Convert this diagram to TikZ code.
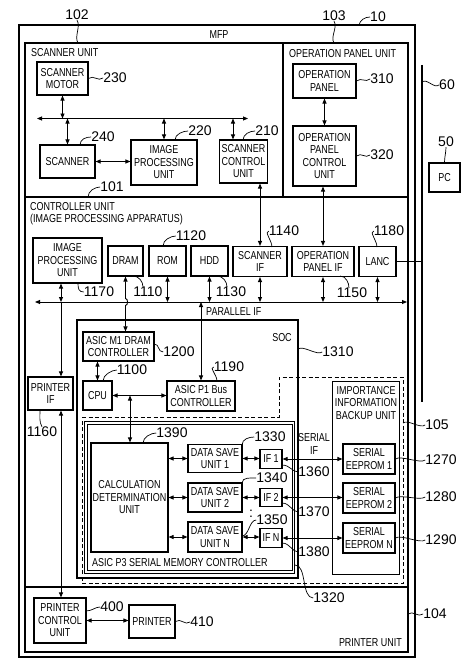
\documentclass[tikz,border=0pt]{standalone}
\usepackage{fontspec}
\setmainfont{Liberation Sans}[FakeStretch=0.78]
\newfontfamily\numfont{Liberation Sans}
\usetikzlibrary{arrows.meta,calc}
\newcommand\bxf{\fontsize{11.5}{12.5}\selectfont}
\newcommand\nmf{\numfont\fontsize{14}{14}\selectfont}
\newcommand\leadT[2]{\draw[lead] (#1) .. controls +(0,-6) and +(-5,0) .. (#2);}
\newcommand\leadB[2]{\draw[lead] (#1) .. controls +(0,6) and +(-5,0) .. (#2);}
\newcommand\leadR[2]{\draw[lead] (#1) .. controls +(6,0) and +(0,-5) .. (#2);}
\newcommand\leadH[2]{\draw[lead] (#1) .. controls +(5,-4) and +(-5,4) .. (#2);}
\newcommand\leadV[2]{\draw[lead] (#1) .. controls +(-4,-6) and +(4,6) .. (#2);}
\begin{document}
\begin{tikzpicture}[x=1pt,y=-1pt,
  >={Triangle[length=5pt,width=4pt]},
  box/.style={draw, line width=1.1pt, align=center, inner sep=0pt, font=\bxf},
  frame/.style={draw, line width=1.1pt},
  num/.style={font=\nmf, inner sep=0pt},
  txt/.style={font=\bxf, inner sep=0pt, align=left},
  lead/.style={line width=0.7pt},
  dbl/.style={<->, line width=0.9pt},
  sgl/.style={->, line width=0.9pt}]
\fill[white] (0,0) rectangle (474,669);
\useasboundingbox (0,0) rectangle (474,669);

% ---------- frames
\draw[frame] (19,25) rectangle (415,657);
\draw[frame] (25,43) rectangle (408,652);
\draw[frame] (25,197) -- (408,197);
\draw[frame] (283,43) -- (283,197);
\draw[frame] (25,587) -- (408,587);

\node[txt] (tmfp) at (219,35) {MFP};
\node[txt, anchor=west] (tsu) at (31,53) {SCANNER UNIT};
\node[txt, anchor=west] (topu) at (289,54) {OPERATION PANEL UNIT};
\node[txt, anchor=west] (tcu1) at (30,207) {CONTROLLER UNIT};
\node[txt, anchor=west] (tcu2) at (30,220) {(IMAGE PROCESSING APPARATUS)};
\node[txt, anchor=east] (tpu) at (402,643) {PRINTER UNIT};

% ---------- scanner unit
\node[box, minimum width=51pt, minimum height=33pt] (smotor) at (62.5,78.5) {SCANNER\\MOTOR};
\node[box, minimum width=55pt, minimum height=33pt] (scanner) at (67.5,161.5) {SCANNER};
\node[box, minimum width=66pt, minimum height=45pt] (sipu) at (164,162.5) {IMAGE\\PROCESSING\\UNIT};
\node[box, minimum width=48pt, minimum height=43pt] (scu) at (243.5,161.5) {SCANNER\\CONTROL\\UNIT};
\coordinate (sbusL) at (37,118.5);
\coordinate (sbusR) at (248,118.5);
\coordinate (scucol) at (233,0);
\draw[dbl] (sbusL) -- (sbusR);
\draw[dbl] (smotor.south) -- (smotor.south |- sbusL);
\draw[dbl] (sbusL -| scanner.north) -- (scanner.north);
\draw[dbl] (sbusL -| sipu.north) -- (sipu.north);
\draw[dbl] (sbusL -| scucol) -- (scu.north -| scucol);
\draw[dbl] (scanner.east) -- (scanner.east -| sipu.west);

% ---------- operation panel unit
\node[box, minimum width=63pt, minimum height=34pt] (opanel) at (324.5,81) {OPERATION\\PANEL};
\node[box, minimum width=63pt, minimum height=60pt] (opcu) at (324.5,156) {OPERATION\\PANEL\\CONTROL\\UNIT};
\draw[dbl] (opanel.south) -- (opcu.north);

% ---------- network and PC
\coordinate (netT) at (422,65);
\coordinate (netB) at (422,402);
\draw[line width=1.2pt] (netT) -- (netB);
\node[box, minimum width=31pt, minimum height=29pt] (pc) at (444.5,177.5) {PC};

% ---------- controller unit
\node[box, minimum width=69pt, minimum height=45pt] (cipu) at (67.5,260.5) {IMAGE\\PROCESSING\\UNIT};
\node[box, minimum width=35pt, minimum height=30pt] (dram) at (125.5,261) {DRAM};
\node[box, minimum width=37pt, minimum height=30pt] (rom) at (167.5,261) {ROM};
\node[box, minimum width=37pt, minimum height=30pt] (hdd) at (209.5,261) {HDD};
\node[box, minimum width=54pt, minimum height=30pt] (sif) at (260,261.5) {SCANNER\\IF};
\node[box, minimum width=62pt, minimum height=30pt] (opif) at (323,261.5) {OPERATION\\PANEL IF};
\node[box, minimum width=37pt, minimum height=30pt] (lanc) at (377.5,261.5) {LANC};
\node[box, minimum width=45pt, minimum height=33pt] (pif) at (50.5,393.5) {PRINTER\\IF};

\draw[dbl] (scu.south -| sif.north) -- (sif.north);
\draw[dbl] (opcu.south -| opif.north) -- (opif.north);
\draw[line width=0.9pt] (lanc.east) -- (lanc.east -| netT);

\coordinate (pbusL) at (35,302);
\coordinate (pbusR) at (407,302);
\coordinate (pcol) at (61,0);
\draw[dbl] (pbusL) -- (pbusR);
\draw[dbl] (cipu.south -| pcol) -- (pbusL -| pcol);
\draw[dbl] (rom.south) -- (rom.south |- pbusL);
\draw[dbl] (hdd.south) -- (hdd.south |- pbusL);
\draw[dbl] (sif.south) -- (sif.south |- pbusL);
\draw[dbl] (opif.south) -- (opif.south |- pbusL);
\draw[dbl] (lanc.south) -- (lanc.south |- pbusL);
\draw[sgl] (pbusL -| pcol) -- (pif.north -| pcol);
\node[txt, anchor=west] (tpar) at (206,312) {PARALLEL IF};

% ---------- SOC
\draw[frame] (77,320) rectangle (298,578);
\node[txt] (tsoc) at (282,338) {SOC};
\node[box, minimum width=71pt, minimum height=29pt] (m1) at (118.5,346.5) {ASIC M1 DRAM\\CONTROLLER};
\node[box, minimum width=29pt, minimum height=29pt] (cpu) at (97.5,395.5) {CPU};
\node[box, minimum width=68pt, minimum height=30pt] (p1) at (201,396) {ASIC P1 Bus\\CONTROLLER};
\coordinate (hop) at (dram.south |- pbusL);
\draw[dbl] (dram.south) -- ([yshift=3.5pt]hop) to[out=0,in=0] ([yshift=-3.5pt]hop) -- (dram.south |- m1.north);
\draw[dbl] (m1.south -| cpu.north) -- (cpu.north);
\draw[dbl] (cpu.east) -- (cpu.east -| p1.west);
\draw[dbl] (p1.north) -- (p1.north |- pbusL);

% dashed backup region
\draw[line width=0.9pt, dash pattern=on 4pt off 2.5pt] (82,417) -- (279,417) -- (279,377) -- (403,377) -- (403,583) -- (82,583) -- cycle;

% ASIC P3
\draw[line width=0.8pt, double, double distance=1.6pt] (86,423) rectangle (293.5,572);
\node[txt, anchor=west] (tp3) at (92,563) {ASIC P3 SERIAL MEMORY CONTROLLER};
\node[box, minimum width=77pt, minimum height=109pt] (calc) at (129.5,497.5) {CALCULATION\\DETERMINATION\\UNIT};
\coordinate (cpj) at (130,395.5);
\draw[dbl] (cpj) -- (cpj |- calc.north);
\node[box, minimum width=54pt, minimum height=28pt] (dsu1) at (215,458.5) {DATA SAVE\\UNIT 1};
\node[box, minimum width=54pt, minimum height=29pt] (dsu2) at (215,497.5) {DATA SAVE\\UNIT 2};
\node[box, minimum width=54pt, minimum height=30pt] (dsun) at (215,537) {DATA SAVE\\UNIT N};
\node[box, minimum width=22pt, minimum height=19pt] (if1) at (271,459) {IF 1};
\node[box, minimum width=22pt, minimum height=18pt] (if2) at (271,497.5) {IF 2};
\node[box, minimum width=22pt, minimum height=19pt] (ifn) at (271,538) {IF N};
\draw[dbl] (dsu1.west -| calc.east) -- (dsu1.west);
\draw[dbl] (dsu2.west -| calc.east) -- (dsu2.west);
\draw[dbl] (dsun.west -| calc.east) -- (dsun.west);
\draw[dbl] (dsu1.east) -- (dsu1.east -| if1.west);
\draw[dbl] (dsu2.east) -- (dsu2.east -| if2.west);
\draw[dbl] (dsun.east) -- (dsun.east -| ifn.west);

% importance information backup unit
\node[draw, line width=1.1pt, minimum width=67pt, minimum height=193pt, inner sep=0pt, anchor=north west] (imp) at (332,381) {};
\node[txt, align=center, anchor=north] (timp) at ([yshift=-5pt]imp.north) {IMPORTANCE\\INFORMATION\\BACKUP UNIT};
\node[box, minimum width=52pt, minimum height=30pt] (ee1) at (369,459) {SERIAL\\EEPROM 1};
\node[box, minimum width=52pt, minimum height=30pt] (ee2) at (369,498) {SERIAL\\EEPROM 2};
\node[box, minimum width=52pt, minimum height=30pt] (een) at (369,538) {SERIAL\\EEPROM N};
\draw[dbl] (if1.east) -- (if1.east -| ee1.west);
\draw[dbl] (if2.east) -- (if2.east -| ee2.west);
\draw[dbl] (ifn.east) -- (ifn.east -| een.west);
\node[txt, align=center] (tsif) at (314,444) {SERIAL\\IF};

% ---------- printer unit
\node[box, minimum width=52pt, minimum height=45pt] (pcu) at (60,620.5) {PRINTER\\CONTROL\\UNIT};
\node[box, minimum width=46pt, minimum height=33pt] (prn) at (152,621.5) {PRINTER};
\draw[dbl] (pif.south -| pcol) -- (pcu.north -| pcol);
\draw[dbl] (pcu.east) -- (pcu.east -| prn.west);

% ---------- reference numbers
\node[num] (l102) at (77,15) {102};
\node[num] (l103) at (334,16) {103};
\node[num] (l10) at (378,17) {10};
\node[num] (l230) at (115,78) {230};
\node[num] (l240) at (103,137) {240};
\node[num] (l220) at (200,131) {220};
\node[num] (l210) at (267,131) {210};
\node[num] (l310) at (382,79) {310};
\node[num] (l320) at (382,155) {320};
\node[num] (l60) at (447,85) {60};
\node[num] (l50) at (446,142) {50};
\node[num] (l101) at (112,187) {101};
\node[num] (l1170) at (99,292) {1170};
\node[num] (l1110) at (148,292) {1110};
\node[num] (l1120) at (191,236) {1120};
\node[num] (l1130) at (231,292) {1130};
\node[num] (l1140) at (284,231) {1140};
\node[num] (l1150) at (352,293) {1150};
\node[num] (l1180) at (389,231) {1180};
\node[num] (l1160) at (42,432) {1160};
\node[num] (l1200) at (179,352) {1200};
\node[num] (l1100) at (132,370) {1100};
\node[num] (l1190) at (229,367) {1190};
\node[num] (l1310) at (338,352) {1310};
\node[num] (l105) at (437,425) {105};
\node[num] (l1390) at (172,433) {1390};
\node[num] (l1330) at (270,437) {1330};
\node[num] (l1340) at (272,478) {1340};
\node[num] (ldots) at (251,514) {:};
\node[num] (l1350) at (272,520) {1350};
\node[num] (l1360) at (314,472) {1360};
\node[num] (l1370) at (314,512) {1370};
\node[num] (l1380) at (314,552) {1380};
\node[num] (l1270) at (441,460) {1270};
\node[num] (l1280) at (441,497) {1280};
\node[num] (l1290) at (441,540) {1290};
\node[num] (l1320) at (329,598) {1320};
\node[num] (l400) at (112,607) {400};
\node[num] (l410) at (202,622) {410};
\node[num] (l104) at (435,614) {104};

% ---------- leads
\coordinate (a102) at (78,43);
\coordinate (a103) at (334,43);
\coordinate (a10) at (359,25);
\coordinate (a240) at (80,145);
\coordinate (a220) at (175,140);
\coordinate (a210) at (243,140);
\coordinate (a60) at (422,82);
\coordinate (a101) at (88,197);
\coordinate (a1170) at (78,283);
\coordinate (a1110) at (133,276);
\coordinate (a1120) at (163,246);
\coordinate (a1130) at (217,276);
\coordinate (a1140) at (272,247);
\coordinate (a1150) at (340,276);
\coordinate (a1180) at (377,247);
\coordinate (a1160) at (40,410);
\coordinate (a1200) at (154,344);
\coordinate (a1100) at (103,381);
\coordinate (a1190) at (217,381);
\coordinate (a1310) at (298,349);
\coordinate (a105) at (403,423);
\coordinate (a1390) at (143,443);
\coordinate (a1330) at (242,445);
\coordinate (a1340) at (242,483);
\coordinate (a1350) at (242,536);
\coordinate (a1360) at (282,465);
\coordinate (a1370) at (282,503);
\coordinate (a1380) at (282,543);
\coordinate (a1320) at (295,565);
\coordinate (a400) at (86,611);
\coordinate (a104) at (408,614);

\leadV{a102}{l102.south}
\leadV{a103}{l103.south}
\draw[lead] (a10) .. controls +(1,-5) and +(-5,0) .. (l10.west);
\leadH{smotor.east}{l230.west}
\leadT{a240}{l240.west}
\leadT{a220}{l220.west}
\leadT{a210}{l210.west}
\leadH{opanel.east}{l310.west}
\leadH{opcu.east}{l320.west}
\leadH{a60}{l60.west}
\draw[lead] (pc.north) .. controls +(0,-5) and +(0,5) .. (l50.south);
\leadT{a101}{l101.west}
\leadB{a1170}{l1170.west}
\leadR{a1110}{[xshift=-5pt]l1110.north}
\leadT{a1120}{l1120.west}
\leadR{a1130}{[xshift=-4pt]l1130.north}
\leadT{a1140}{l1140.west}
\leadR{a1150}{[xshift=-3pt]l1150.north}
\leadT{a1180}{l1180.west}
\draw[lead] (a1160) .. controls +(0,6) and +(-3,-5) .. (l1160.north);
\draw[lead] (a1200) .. controls +(6,0) and +(-6,0) .. (l1200.west);
\leadT{a1100}{l1100.west}
\leadT{a1190}{l1190.west}
\leadH{a1310}{l1310.west}
\leadH{a105}{l105.west}
\leadT{a1390}{l1390.west}
\leadT{a1330}{l1330.west}
\leadT{a1340}{l1340.west}
\draw[lead] (a1350) .. controls +(7,0) and +(-7,0) .. (l1350.west);
\draw[lead] (a1360) .. controls +(8,0) and +(-6,0) .. (l1360.west);
\draw[lead] (a1370) .. controls +(8,0) and +(-6,0) .. (l1370.west);
\draw[lead] (a1380) .. controls +(8,0) and +(-6,0) .. (l1380.west);
\leadH{ee1.east}{l1270.west}
\leadH{ee2.east}{l1280.west}
\leadH{een.east}{l1290.west}
\draw[lead] (a1320) .. controls +(12,0) and +(-12,0) .. (l1320.west);
\draw[lead] (a400) .. controls +(6,0) and +(-5,0) .. (l400.west);
\leadH{prn.east}{l410.west}
\leadH{a104}{l104.west}
\end{tikzpicture}
\end{document}
